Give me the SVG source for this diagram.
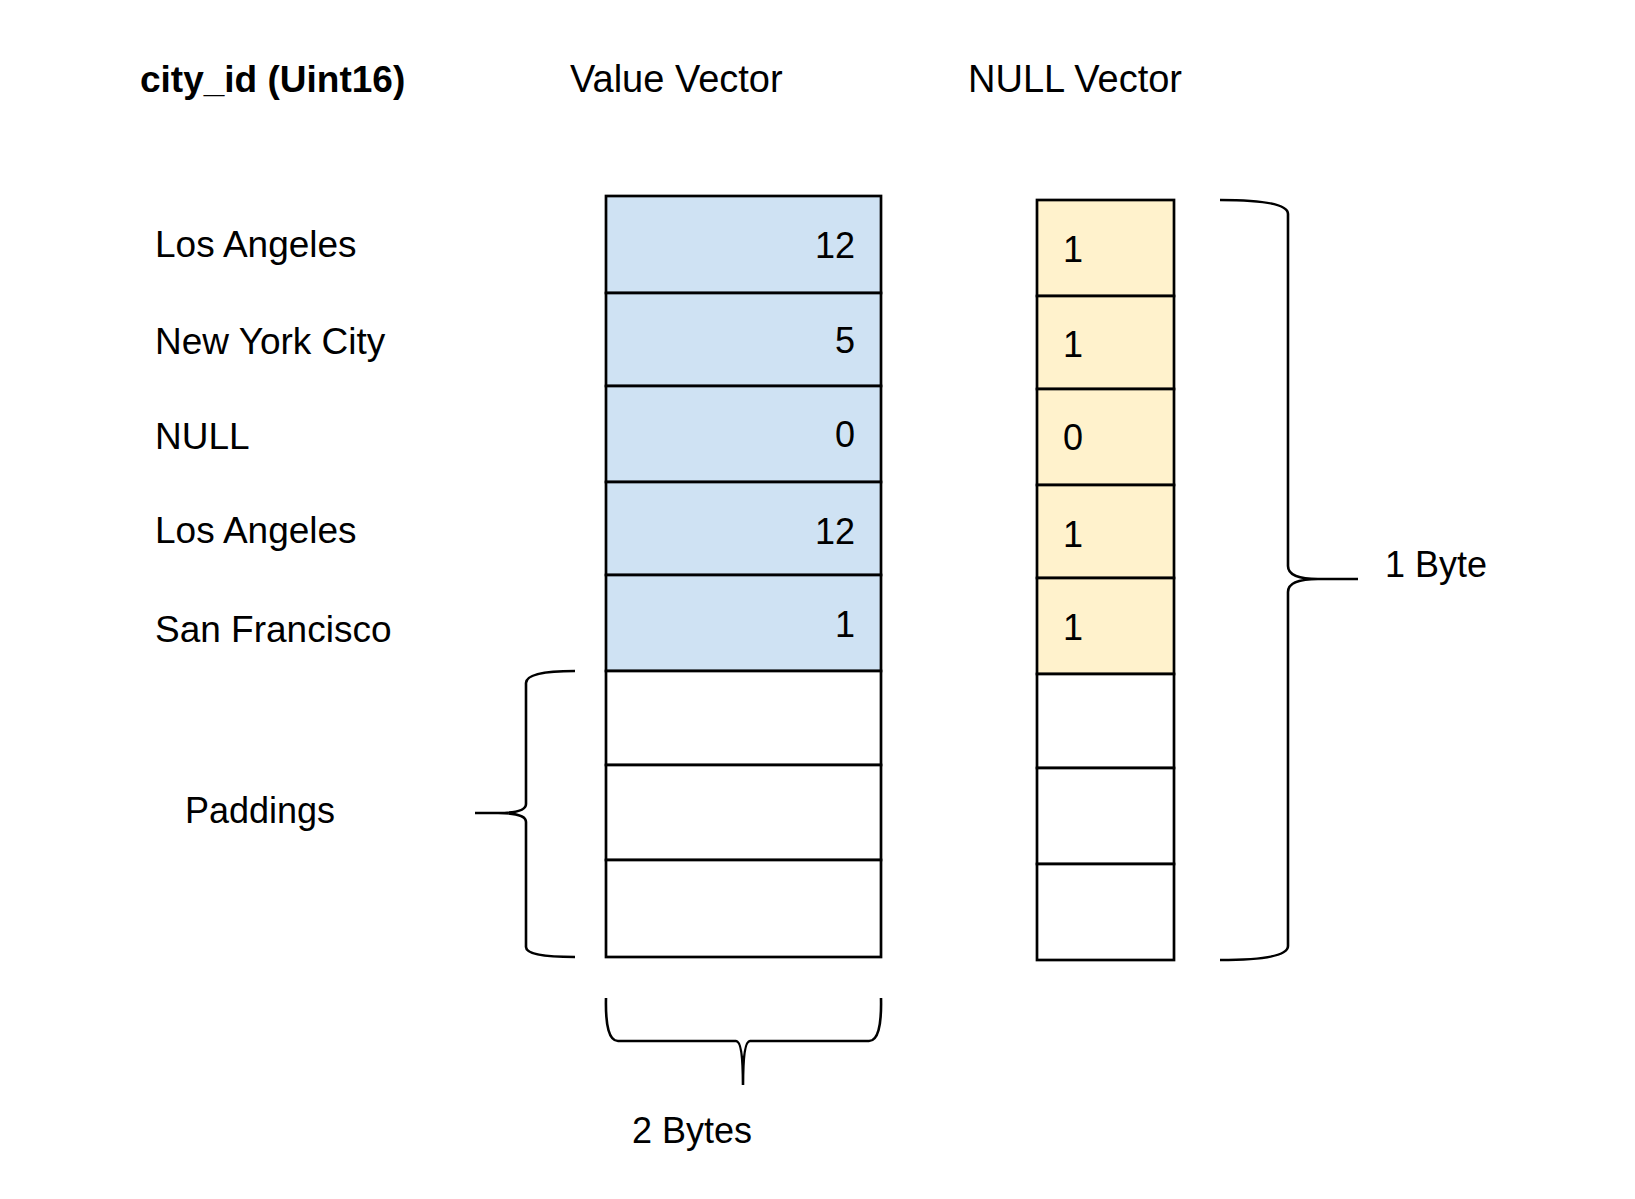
<svg xmlns="http://www.w3.org/2000/svg" width="1635" height="1199" viewBox="0 0 1635 1199">
<style>
text{font-family:"Liberation Sans",Arial,sans-serif;font-size:37px;fill:#000}
.b{font-weight:bold}
.h{font-size:38px}
.n{font-size:36px}
.cell{stroke:#000;stroke-width:2.7}
.val{fill:#cfe2f3}
.nul{fill:#fff2cc}
.emp{fill:#fff}
.brace{fill:none;stroke:#000;stroke-width:2.6;stroke-linejoin:round}
.r{text-anchor:end}
</style>
<rect width="1635" height="1199" fill="#fff"/>
<g id="headers">
<text class="b" x="140" y="92">city_id (Uint16)</text>
<text class="h" x="570" y="92">Value Vector</text>
<text class="h" x="968" y="92">NULL Vector</text>
</g>
<g id="row-labels">
<text x="155" y="257">Los Angeles</text>
<text x="155" y="354">New York City</text>
<text x="155" y="449">NULL</text>
<text x="155" y="543">Los Angeles</text>
<text x="155" y="642">San Francisco</text>
<text class="n" x="185" y="823">Paddings</text>
</g>
<g id="value-vector">
<rect class="cell val" x="606" y="196" width="275" height="97"/>
<rect class="cell val" x="606" y="293" width="275" height="93"/>
<rect class="cell val" x="606" y="386" width="275" height="96"/>
<rect class="cell val" x="606" y="482" width="275" height="93"/>
<rect class="cell val" x="606" y="575" width="275" height="96"/>
<rect class="cell emp" x="606" y="671" width="275" height="94"/>
<rect class="cell emp" x="606" y="765" width="275" height="95"/>
<rect class="cell emp" x="606" y="860" width="275" height="97"/>
<text class="r n" x="855" y="258">12</text>
<text class="r n" x="855" y="353">5</text>
<text class="r n" x="855" y="447">0</text>
<text class="r n" x="855" y="544">12</text>
<text class="r n" x="855" y="637">1</text>
</g>
<g id="null-vector">
<rect class="cell nul" x="1037" y="200" width="137" height="96"/>
<rect class="cell nul" x="1037" y="296" width="137" height="93"/>
<rect class="cell nul" x="1037" y="389" width="137" height="96"/>
<rect class="cell nul" x="1037" y="485" width="137" height="93"/>
<rect class="cell nul" x="1037" y="578" width="137" height="96"/>
<rect class="cell emp" x="1037" y="674" width="137" height="94"/>
<rect class="cell emp" x="1037" y="768" width="137" height="96"/>
<rect class="cell emp" x="1037" y="864" width="137" height="96"/>
<text class="n" x="1063" y="262">1</text>
<text class="n" x="1063" y="357">1</text>
<text class="n" x="1063" y="450">0</text>
<text class="n" x="1063" y="547">1</text>
<text class="n" x="1063" y="640">1</text>
</g>
<g id="connectors">
<path class="brace" d="M1220,200 Q1288,200 1288,214 L1288,566 Q1288,579 1318,579 L1358,579 M1318,579 Q1288,579 1288,592 L1288,946 Q1288,960 1220,960"/>
<path class="brace" d="M575,671 Q526,671 526,683 L526,804 Q526,813 498,813 L475,813 M498,813 Q526,813 526,822 L526,947 Q526,957 575,957"/>
<path class="brace" d="M606,998 Q605,1041 618,1041 L736,1041 Q743,1041 743,1085 M881,998 Q882,1041 869,1041 L750,1041 Q743,1041 743,1085"/>
</g>
<g id="brace-labels">
<text class="n" x="1385" y="577">1 Byte</text>
<text class="n" x="632" y="1143">2 Bytes</text>
</g>
</svg>
